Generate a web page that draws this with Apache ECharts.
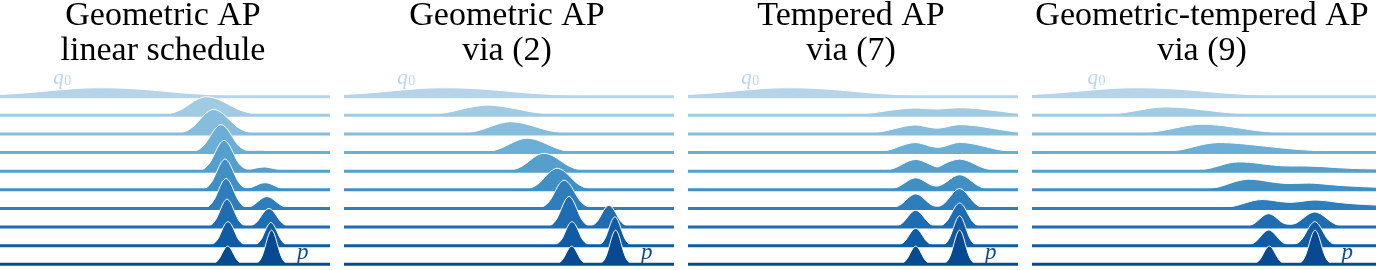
<!DOCTYPE html>
<html>
<head>
<meta charset="utf-8">
<title>Annealing paths</title>
<script src="https://cdn.jsdelivr.net/npm/echarts@6/dist/echarts.min.js"></script>
<style>
  html, body { margin: 0; padding: 0; background: #fff; }
  #chart { width: 1376px; height: 270px; }
</style>
</head>
<body>
<div id="chart"></div>
<script>
  // titles, two lines per panel
  const titleLines = [
    ['Geometric AP', 'linear schedule'],
    ['Geometric AP', 'via (2)'],
    ['Tempered AP', 'via (7)'],
    ['Geometric-tempered AP', 'via (9)']
  ];

  // each row: [x in % of panel width, height in row-gap units]
  const q0 = [[0,.12],[5,.17],[10,.24],[15,.32],[20,.40],[25,.46],[30,.48],[35,.47],[40,.43],[45,.37],[50,.29],[55,.21],[60,.15],[65,.10],[70,.05],[80,.02],[90,.01],[100,0]];
  const p = [[62,0],[63.9,.01],[64.75,.04],[65.6,.13],[66.45,.31],[67.3,.59],[68.15,.86],[69,.98],[69.85,.86],[70.7,.59],[71.55,.31],[72.4,.13],[73.25,.04],[74.1,.01],[75.6,0],[77.2,.02],[78.05,.08],[78.9,.25],[79.75,.6],[80.6,1.12],[81.45,1.62],[82.3,1.84],[83.15,1.62],[84,1.12],[84.85,.6],[85.7,.25],[86.55,.08],[87.4,.02],[89,0]];

  // geometric, linear schedule
  const linearRows = [
    q0,
    [[45,0],[47.3,.01],[50,.05],[52.4,.14],[55,.32],[57.5,.61],[60.05,.88],[62.6,1],[65.8,.88],[69,.61],[72.2,.32],[75.4,.14],[78.6,.04],[81.8,.01],[86,0]],
    [[50,0],[52.7,.01],[54.7,.06],[56.7,.18],[58.7,.42],[60.7,.8],[62.7,1.16],[64.7,1.32],[67,1.16],[69.3,.8],[71.6,.42],[73.9,.18],[76.2,.07],[78.5,.04],[80.8,.03],[83,.01],[86,0]],
    [[55,0],[57.4,.02],[59,.07],[60.6,.21],[62.2,.48],[63.8,.91],[65.4,1.32],[67,1.5],[68.6,1.32],[70.2,.91],[71.8,.48],[73.4,.22],[75,.12],[76.6,.12],[79.4,.13],[82.6,.08],[86,.02],[90,0]],
    [[58,0],[59.8,.02],[61.15,.07],[62.5,.23],[63.85,.53],[65.2,1.01],[66.55,1.46],[67.9,1.66],[69.25,1.46],[70.6,1.01],[71.95,.53],[73.3,.25],[74.65,.12],[75.8,.1],[77,.15],[80,.23],[83,.14],[86,.03],[89,0]],
    [[59,0],[60.85,.02],[62.1,.07],[63.3,.23],[64.5,.53],[65.75,1.01],[67,1.46],[68.2,1.66],[69.4,1.46],[70.65,1.01],[71.9,.53],[73.1,.24],[74.3,.11],[75.3,.1],[76.1,.13],[77.5,.23],[78.9,.34],[80.3,.38],[81.7,.34],[83.1,.23],[84.5,.12],[85.9,.05],[87.3,.02],[89,0]],
    [[60,0],[61.6,.02],[62.75,.07],[63.9,.23],[65.05,.52],[66.2,.98],[67.35,1.42],[68.5,1.61],[69.65,1.42],[70.8,.98],[71.95,.52],[73.1,.24],[74.25,.09],[75.5,.09],[76.3,.13],[77,.21],[78.3,.39],[79.6,.56],[80.9,.64],[82.2,.56],[83.5,.39],[84.8,.21],[86.1,.09],[87.4,.03],[89,.01],[91,0]],
    [[61,0],[62.5,.02],[63.55,.07],[64.6,.21],[65.65,.48],[66.7,.91],[67.75,1.32],[68.8,1.5],[69.85,1.32],[70.9,.91],[71.95,.48],[73,.21],[74.05,.08],[75.3,.05],[76.9,.14],[78.05,.32],[79.2,.61],[80.35,.88],[81.5,1],[82.65,.88],[83.8,.61],[84.95,.32],[86.1,.14],[87.25,.04],[88.4,.01],[91,0]],
    [[62,0],[63.25,.01],[64.2,.06],[65.2,.18],[66.2,.41],[67.15,.79],[68.1,1.14],[69.1,1.29],[70.1,1.14],[71.05,.79],[72,.41],[73,.18],[74,.06],[75,.02],[75.8,.01],[76.55,.02],[77.5,.06],[78.4,.17],[79.35,.4],[80.25,.76],[81.2,1.1],[82.1,1.25],[83,1.1],[83.95,.76],[84.9,.4],[85.8,.17],[86.7,.06],[87.65,.01],[90,0]],
    p
  ];

  // geometric, schedule from (2)
  const viaTwoRows = [
    q0,
    [[16,0],[20.6,.01],[24.4,.02],[28.2,.08],[32,.18],[35.8,.34],[39.6,.48],[43.4,.55],[47.95,.48],[52.5,.34],[57.05,.18],[61.6,.08],[66.15,.02],[70.7,.01],[76,0]],
    [[28,0],[32.2,.01],[35.25,.03],[38.3,.09],[41.35,.21],[44.4,.4],[47.45,.58],[50.5,.66],[54.15,.58],[57.8,.4],[61.45,.21],[65.1,.09],[68.75,.03],[72.4,.01],[78,0]],
    [[37,0],[39.9,.01],[42.5,.03],[45.1,.1],[47.7,.25],[50.3,.47],[52.9,.68],[55.5,.77],[58.4,.68],[61.3,.47],[64.2,.25],[67.1,.1],[70,.03],[72.9,.01],[78,0]],
    [[45,0],[48,.01],[50.1,.04],[52.2,.13],[54.3,.31],[56.4,.59],[58.5,.85],[60.6,.96],[63,.85],[65.4,.59],[67.8,.31],[70.2,.13],[72.6,.04],[75,.01],[80,0]],
    [[51,0],[53.8,.01],[55.6,.05],[57.4,.16],[59.2,.37],[61,.71],[62.8,1.02],[64.6,1.16],[66.55,1.02],[68.5,.71],[70.45,.37],[72.4,.16],[74.35,.06],[76.3,.03],[79,.03],[82,.02],[85,0]],
    [[56,0],[58.6,.02],[59.95,.07],[61.3,.21],[62.65,.49],[64,.93],[65.35,1.34],[66.7,1.52],[68.2,1.34],[69.7,.93],[71.2,.49],[72.7,.21],[74.2,.07],[75.7,.03],[77.5,.04],[80.5,.08],[83.5,.04],[86,0]],
    [[59,0],[61.3,.02],[62.45,.07],[63.6,.23],[64.75,.53],[65.9,1.01],[67.05,1.45],[68.2,1.65],[69.35,1.45],[70.5,1.01],[71.65,.53],[72.8,.23],[73.95,.09],[74.8,.08],[75.9,.16],[77,.37],[78.1,.71],[79.2,1.03],[80.3,1.17],[81.4,1.03],[82.5,.71],[83.6,.37],[84.7,.16],[85.8,.05],[86.9,.01],[89,0]],
    [[62,0],[63.25,.01],[64.2,.06],[65.2,.18],[66.2,.41],[67.15,.79],[68.1,1.14],[69.1,1.29],[70.1,1.14],[71.05,.79],[72,.41],[73,.18],[74,.06],[75,.02],[75.8,.01],[76.7,.02],[77.6,.07],[78.5,.21],[79.4,.5],[80.3,.95],[81.2,1.37],[82.1,1.56],[83,1.37],[83.9,.95],[84.8,.5],[85.7,.21],[86.6,.07],[87.5,.02],[90,0]],
    p
  ];

  // tempered, schedule from (7)
  const temperedRows = [
    q0,
    [[35,0],[42,.004],[46.5,.017],[51,.053],[55.5,.125],[60,.24],[64.5,.34],[69,.39],[71.2,.375],[73.4,.35],[75.6,.34],[77.8,.36],[80,.39],[82.3,.41],[87.8,.36],[93.3,.25],[98.8,.13],[100,.115]],
    [[45,0],[50.1,.005],[53.25,.021],[56.4,.065],[59.55,.155],[62.7,.29],[65.85,.42],[69,.48],[71.2,.43],[73.4,.35],[75.6,.31],[77.8,.36],[80,.45],[82.3,.5],[87.3,.44],[92.3,.3],[97.3,.16],[100,.1]],
    [[50,0],[54,.006],[56.5,.024],[59,.073],[61.5,.17],[64,.33],[66.5,.475],[69,.54],[71.2,.46],[73.4,.34],[75.6,.28],[77.8,.34],[80,.47],[82.3,.55],[86.05,.48],[89.8,.335],[93.55,.176],[97.3,.074],[100,.04]],
    [[54,0],[57,.007],[59,.028],[61,.085],[63,.2],[65,.38],[67,.555],[69,.63],[71.2,.54],[73.4,.36],[75.6,.23],[77.8,.41],[80,.57],[82.3,.65],[84.55,.57],[86.8,.39],[89.05,.21],[91.3,.088],[93.55,.029],[95.8,.007],[98,0]],
    [[57,0],[59.4,.007],[61,.029],[62.6,.09],[64.2,.21],[65.8,.39],[67.4,.57],[69,.65],[70.6,.57],[72.2,.4],[73.8,.25],[75.4,.2],[77.05,.29],[78.8,.49],[80.55,.71],[82.3,.81],[84.05,.71],[85.8,.49],[87.55,.26],[89.3,.11],[91.05,.036],[92.8,.009],[95,0]],
    [[59,0],[60.6,.01],[62,.03],[63.4,.11],[64.8,.25],[66.2,.48],[67.6,.69],[69,.78],[70.4,.69],[71.8,.48],[73.2,.26],[74.6,.135],[76,.12],[77.4,.24],[78.1,.35],[79.5,.65],[80.9,.94],[82.3,1.07],[83.7,.94],[85.1,.65],[86.5,.35],[87.9,.145],[89.3,.047],[90.7,.012],[93,0]],
    [[60,0],[61.8,.01],[63,.04],[64.2,.12],[65.4,.29],[66.6,.55],[67.8,.79],[69,.9],[70.2,.79],[71.4,.55],[72.6,.29],[73.8,.12],[75,.05],[75.8,.04],[76.55,.065],[77.7,.18],[78.85,.42],[80,.79],[81.15,1.14],[82.3,1.29],[83.45,1.14],[84.6,.79],[85.75,.42],[86.9,.18],[88.05,.057],[89.2,.014],[92,0]],
    [[61,0],[63,.01],[64,.04],[65,.13],[66,.3],[67,.57],[68,.82],[69,.93],[70,.82],[71,.57],[72,.3],[73,.13],[74,.04],[75,.01],[75.9,.01],[76.75,.02],[77.7,.07],[78.6,.22],[79.5,.52],[80.45,.98],[81.4,1.42],[82.3,1.61],[83.2,1.42],[84.15,.98],[85.1,.52],[86,.22],[86.9,.07],[87.85,.02],[90,0]],
    p
  ];

  // geometric-tempered, schedule from (9)
  const geoTemperedRows = [
    q0,
    [[10,0],[14.8,.005],[18.8,.02],[22.8,.063],[26.8,.146],[30.8,.27],[34.8,.4],[38.8,.45],[44.8,.4],[50.8,.27],[56.8,.146],[62.8,.063],[68.8,.02],[74.8,.005],[80,0]],
    [[21,0],[25.4,.006],[29.4,.023],[33.4,.073],[37.4,.167],[41.4,.315],[45.4,.46],[49.4,.52],[54.9,.46],[60.4,.315],[65.9,.167],[71.4,.073],[76.9,.023],[82.4,.006],[88,0]],
    [[30,0],[33.3,.006],[36.8,.024],[40.3,.076],[43.8,.17],[47.3,.33],[50.8,.475],[54.3,.54],[60,.49],[66,.38],[72,.26],[78,.16],[84,.1],[90,.07],[96,.05],[100,.04]],
    [[40,0],[43.5,.006],[46.25,.022],[49,.07],[51.75,.16],[54.5,.3],[57.25,.44],[60,.5],[63,.48],[66,.42],[69,.35],[72,.3],[75,.28],[78,.28],[81,.27],[84,.25],[88,.2],[92,.16],[96,.13],[100,.11]],
    [[44,0],[46.5,.006],[49.25,.025],[52,.08],[54.75,.18],[57.5,.35],[60.25,.5],[63,.57],[66,.53],[69,.44],[72,.37],[75,.34],[78,.35],[80.4,.36],[83,.34],[86,.29],[90,.23],[95,.18],[100,.14]],
    [[49,0],[51.9,.005],[54.4,.02],[56.9,.068],[59.4,.155],[61.9,.29],[64.4,.42],[66.9,.48],[69.5,.44],[72,.37],[75,.33],[78,.37],[80.4,.43],[82.4,.45],[85,.42],[88,.35],[92,.27],[96,.22],[100,.18]],
    [[59,0],[60.9,.01],[62.3,.03],[63.6,.1],[64.9,.23],[66.2,.44],[67.5,.635],[68.8,.72],[70.1,.635],[71.4,.44],[72.7,.25],[74,.16],[75.3,.15],[76.5,.19],[77.25,.26],[78.9,.49],[80.55,.71],[82.2,.81],[83.85,.71],[85.5,.49],[87.15,.26],[88.8,.11],[90.45,.04],[92.1,.01],[95,0]],
    [[60,0],[61.9,.01],[63.05,.04],[64.2,.11],[65.35,.27],[66.5,.51],[67.65,.74],[68.8,.84],[69.95,.74],[71.1,.51],[72.25,.27],[73.4,.12],[74.55,.07],[75.3,.07],[76.45,.09],[77.6,.18],[78.75,.42],[79.9,.79],[81.05,1.14],[82.2,1.29],[83.35,1.14],[84.5,.79],[85.65,.42],[86.8,.18],[87.95,.057],[89.1,.014],[92,0]],
    p
  ];

  // Blues, light on top to dark at the bottom
  const rowColors = ['#b6d4e9', '#a1cbe2', '#86bddc', '#6baed6', '#559fcd', '#4090c5', '#2e7ebc', '#1e6db2', '#105ca4', '#084a92'];

  const panels = [linearRows, viaTwoRows, temperedRows, geoTemperedRows];
  const panelLeft = [0, 344, 688, 1032];
  const panelWidth = [330, 330, 330, 344];
  const rowGap = 18.62;
  const lastBase = 264.3;
  const serif = 'Liberation Serif';

  const chart = echarts.init(document.getElementById('chart'));

  var grid = [], xAxis = [], yAxis = [], series = [], graphic = [];

  panels.forEach(function (rows, k) {
    var n = rows.length;
    grid.push({ left: panelLeft[k], width: panelWidth[k], top: lastBase - n * rowGap, height: n * rowGap });
    xAxis.push({ type: 'value', gridIndex: k, min: 0, max: 100, show: false });
    yAxis.push({ type: 'value', gridIndex: k, min: 0, max: n, show: false });

    rows.forEach(function (row, r) {
      var off = n - 1 - r;
      // density ridge with white edge
      series.push({
        type: 'line',
        xAxisIndex: k,
        yAxisIndex: k,
        data: row.map(function (d) { return [d[0], off + d[1]]; }),
        smooth: 0.3,
        symbol: 'none',
        clip: false,
        silent: true,
        z: 10 + 2 * r,
        lineStyle: { color: '#fff', width: 1 },
        areaStyle: { color: rowColors[r], opacity: 1, origin: off }
      });
      // thick baseline
      series.push({
        type: 'line',
        xAxisIndex: k,
        yAxisIndex: k,
        data: [[0, off], [100, off]],
        symbol: 'none',
        clip: false,
        silent: true,
        z: 11 + 2 * r,
        lineStyle: { color: rowColors[r], width: 3 }
      });
    });

    var cx = panelLeft[k] + panelWidth[k] / 2 - 2;
    titleLines[k].forEach(function (t, i) {
      graphic.push({
        type: 'text', silent: true,
        style: { text: t, x: cx, y: 16 + i * 35, align: 'center', verticalAlign: 'middle',
          fontFamily: serif, fontSize: 34, fill: '#000' }
      });
    });

    // q0 and p labels
    var lx = panelLeft[k] + 0.161 * panelWidth[k];
    graphic.push({ type: 'text', silent: true, z: 100,
      style: { text: 'q', x: lx, y: 78, align: 'left', verticalAlign: 'middle',
        fontFamily: serif, fontStyle: 'italic', fontSize: 21, fill: '#bcd6eb' } });
    graphic.push({ type: 'text', silent: true, z: 100,
      style: { text: '0', x: lx + 11, y: 81, align: 'left', verticalAlign: 'middle',
        fontFamily: serif, fontSize: 14, fill: '#bcd6eb' } });
    graphic.push({ type: 'text', silent: true, z: 100,
      style: { text: 'p', x: panelLeft[k] + 0.9 * panelWidth[k], y: 253, align: 'left', verticalAlign: 'middle',
        fontFamily: serif, fontStyle: 'italic', fontSize: 23, fill: '#0f4c91' } });
  });

  chart.setOption({
    animation: false,
    grid: grid,
    xAxis: xAxis,
    yAxis: yAxis,
    series: series,
    graphic: graphic
  });
</script>
</body>
</html>
